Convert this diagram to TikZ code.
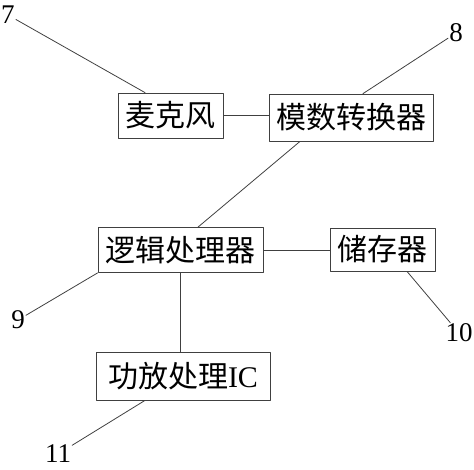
\documentclass[tikz,border=0pt]{standalone}
\usepackage{fontspec}
\setmainfont{Liberation Serif}
\newfontfamily\cjk{Noto Sans CJK SC}
\begin{document}
\begin{tikzpicture}[x=1pt,y=-1pt,line join=round,line cap=round,
	box/.style={draw=black!75,line width=0.8pt,inner sep=0pt,minimum height=45pt,font=\fontsize{30}{30}\selectfont\cjk},
	num/.style={inner sep=1pt,font=\fontsize{27}{27}\selectfont},
	wire/.style={draw=black!75,line width=0.8pt}]
		\useasboundingbox (0,0) rectangle (474,469);
		\node[box,minimum width=105pt] (mic) at (170.5,115.5) {麦克风};
		\node[box,minimum width=164pt,minimum height=47pt] (adc) at (351,117.5) {模数转换器};
		\node[box,minimum width=165pt] (logic) at (180.5,250) {逻辑处理器};
		\node[box,minimum width=105pt,minimum height=43pt] (mem) at (382.5,249.5) {储存器};
		\node[box,minimum width=174pt,minimum height=48pt] (amp) at (183,376) {功放处理{\rmfamily IC}};
		\node[num] (n7) at (8,15) {7};
		\node[num] (n8) at (456,33) {8};
		\node[num] (n9) at (18,320) {9};
		\node[num] (n10) at (459,333) {10};
		\node[num] (n11) at (58,454) {11};
		\draw[wire] (mic.east) -- (mic.east -| adc.west);
		\draw[wire] ([xshift=-51pt]adc.south) -- ([xshift=17.5pt]logic.north);
		\draw[wire] (logic.east) -- (logic.east -| mem.west);
		\draw[wire] (logic.south) -- (logic.south |- amp.north);
		% leader lines
		\draw[wire] (n7) -- ([xshift=-25.5pt]mic.north);
		\draw[wire] (n8) -- ([xshift=12pt]adc.north);
		\draw[wire] (n9) -- (logic.south west);
		\draw[wire] (n10) -- ([xshift=24.5pt]mem.south);
		\draw[wire] (n11) -- ([xshift=-38pt]amp.south);
\end{tikzpicture}
\end{document}
